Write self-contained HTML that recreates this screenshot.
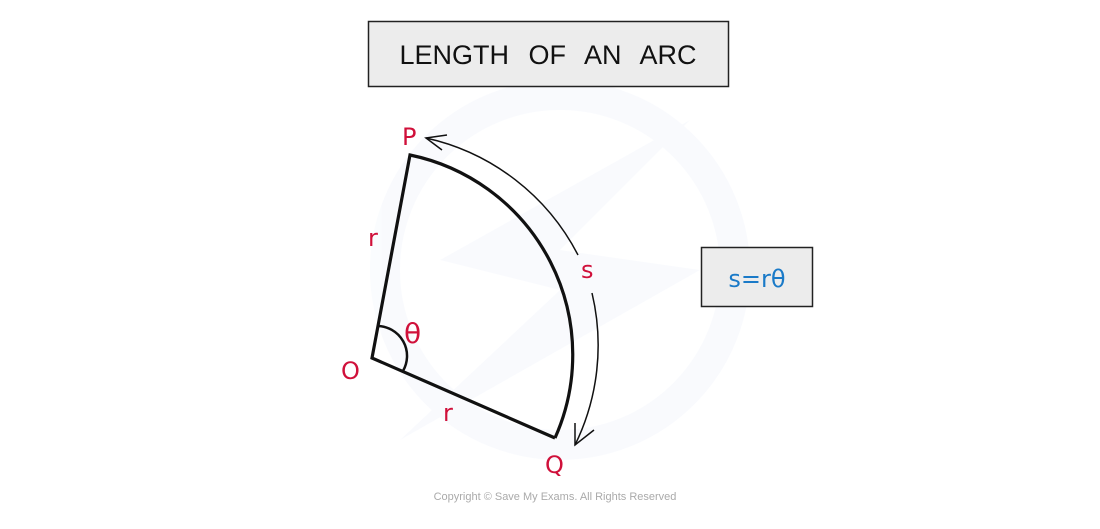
<!DOCTYPE html>
<html><head><style>
body{margin:0;background:#fff;width:1100px;height:524px;overflow:hidden;font-family:"Liberation Sans","DejaVu Sans",sans-serif}
</style></head><body>
<svg width="1100" height="524" xmlns="http://www.w3.org/2000/svg">
<g opacity="0.022" fill="#2a6bd6">
<circle cx="560" cy="270" r="175" fill="none" stroke="#2a6bd6" stroke-width="30"/>
<polygon points="690,120 440,260 560,290 400,440 700,270 560,250"/>
</g>
<rect x="368.5" y="21.5" width="360" height="65" fill="#ececec" stroke="#222" stroke-width="1.5"/>
<text x="548" y="64" text-anchor="middle" font-size="27" fill="#111" word-spacing="12" font-family="Liberation Sans, sans-serif">LENGTH OF AN ARC</text>
<path d="M555,438 L372,358 L410,155 A204,204 0 0 1 555,438" fill="none" stroke="#111" stroke-width="3.2" stroke-linejoin="miter"/>
<path d="M378,326 A30,30 0 0 1 403,371" fill="none" stroke="#111" stroke-width="2.5"/>
<path d="M426,138 A226,226 0 0 1 578,255" fill="none" stroke="#111" stroke-width="1.5"/>
<path d="M592,293 A226,226 0 0 1 575,445" fill="none" stroke="#111" stroke-width="1.5"/>
<path d="M447,135 L426,138 L442,150" fill="none" stroke="#111" stroke-width="1.5"/>
<path d="M594,430 L575,445 L575,423" fill="none" stroke="#111" stroke-width="1.5"/>
<g fill="#d0103a" font-family="DejaVu Sans, sans-serif" font-size="24">
<text x="402" y="145">P</text>
<text x="341" y="379">O</text>
<text x="545" y="473">Q</text>
<text x="368" y="246">r</text>
<text x="443" y="421">r</text>
<text x="581" y="278">s</text>
<text x="404" y="343" font-size="28">θ</text>
</g>
<rect x="701.5" y="247.5" width="111" height="59" fill="#ececec" stroke="#222" stroke-width="1.5"/>
<text x="757" y="287" text-anchor="middle" font-size="24" fill="#1a7ac8" font-family="DejaVu Sans, sans-serif">s=rθ</text>
<text x="555" y="500" text-anchor="middle" font-size="11" fill="#aaa">Copyright © Save My Exams. All Rights Reserved</text>
</svg>
</body></html>
